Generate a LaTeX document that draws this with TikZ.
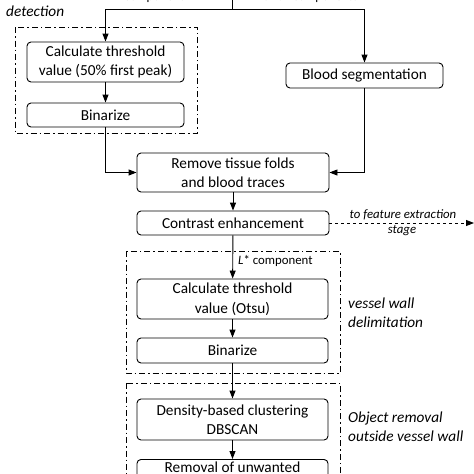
\documentclass[tikz,border=0pt]{standalone}
\usepackage{fontspec}
\setmainfont{Carlito}
\usetikzlibrary{arrows.meta}
\begin{document}
\begin{tikzpicture}[x=1pt,y=-1pt,
  box/.style={draw, rounded corners=4pt, line width=0.9pt, align=center, inner sep=0pt, font=\fontsize{15.3}{19.5}\selectfont},
  arr/.style={-{Triangle[length=8pt,width=6pt]}, line width=0.9pt},
  grp/.style={line width=0.9pt, dash pattern=on 6pt off 3pt on 1.5pt off 3pt},
  lbl/.style={font=\fontsize{15.3}{19}\selectfont\itshape, align=left, inner sep=0pt},
  small/.style={font=\fontsize{12.8}{14}\selectfont, inner sep=0pt},
  smallit/.style={font=\fontsize{12.8}{14}\selectfont\itshape, inner sep=0pt}]
\useasboundingbox (0,0) rectangle (474,474);
\clip (0,0) rectangle (474,474);
% group frames
\draw[grp] (15,27) rectangle (197,133);
\draw[grp] (126,251) rectangle (340,373);
\draw[grp] (126,383) rectangle (340,510);
% nodes
\node[box, minimum width=157pt, minimum height=40pt] (calc1) at (105.5,62) {Calculate threshold\\value (50\% first peak)};
\node[box, minimum width=157pt, minimum height=24pt] (bin1) at (105.5,115) {Binarize};
\node[box, minimum width=157pt, minimum height=25pt] (blood) at (364.5,75.5) {Blood segmentation};
\node[box, minimum width=192pt, minimum height=39pt] (remove) at (233,172.5) {Remove tissue folds\\and blood traces};
\node[box, minimum width=192pt, minimum height=24pt] (contrast) at (233,223) {Contrast enhancement};
\node[box, minimum width=191pt, minimum height=40pt] (otsu) at (232.5,299) {Calculate threshold\\value (Otsu)};
\node[box, minimum width=191pt, minimum height=25pt] (bin2) at (232.5,350.5) {Binarize};
\node[box, minimum width=191pt, minimum height=41pt] (dbscan) at (232.5,419.5) {Density-based clustering\\DBSCAN};
\node[box, minimum width=191pt, minimum height=40pt, anchor=north] (removal) at (232.5,459) {Removal of unwanted\\\strut};
% labels
\node[small, anchor=base] (lcomp) at (147,0.8) {\textit{L}* component};
\node[small, anchor=base] (abcomp) at (311,0.8) {\textit{a}*\textit{b}* components};
\node[lbl, anchor=west] (det) at (6,11) {detection};
\node[lbl, anchor=west] (vw) at (348,312.5) {vessel wall\\delimitation};
\node[lbl, anchor=west] (obj) at (348,426.5) {Object removal\\outside vessel wall};
\node[small, anchor=west] (lc) at (238,261) {\textit{L}* component};
\node[smallit, anchor=base] (fe) at (403,218) {to feature extraction};
\node[smallit, anchor=north] (st) at (402,225.5) {stage};
\coordinate (top) at (232,-10);
\coordinate (split) at (232,9);
\coordinate (feat) at (474,223);
% connectors
\draw[line width=0.9pt] (top) -- (split);
\draw[arr] (split) -| (calc1.north);
\draw[arr] (split) -| (blood.north);
\draw[arr] (calc1) -- (bin1);
\draw[arr] (bin1.south) |- (remove.west);
\draw[arr] (blood.south) |- (remove.east);
\draw[arr] (remove) -- (contrast);
\draw[arr, dashed] (contrast.east) -- (feat);
\draw[arr] (contrast) -- (otsu);
\draw[arr] (otsu) -- (bin2);
\draw[arr] (bin2) -- (dbscan);
\draw[arr] (dbscan) -- (removal);
\end{tikzpicture}
\end{document}
